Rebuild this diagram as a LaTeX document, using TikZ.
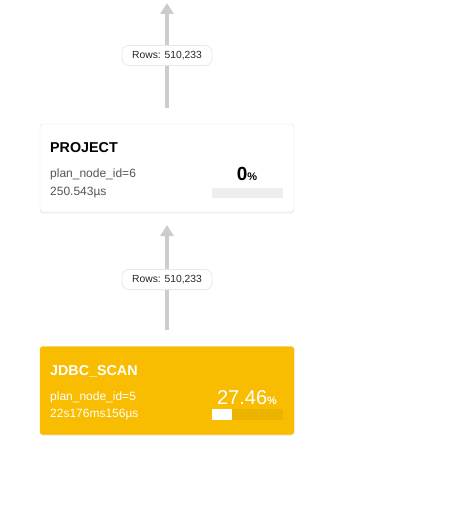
\documentclass[tikz,border=0pt]{standalone}
\usepackage{fontspec}
\setmainfont{Liberation Sans}
\usetikzlibrary{arrows.meta,shadows}
\definecolor{amber}{HTML}{F8BC00}
\definecolor{amberdark}{HTML}{EBB200}
\definecolor{edgegray}{HTML}{CCCCCC}
\definecolor{txtgray}{HTML}{555555}
\definecolor{bargray}{HTML}{EEEEEE}
\tikzset{
  opbox/.style={draw=#1, rounded corners=3pt, minimum width=254pt, minimum height=88pt,
    drop shadow={opacity=0.10, shadow xshift=0pt, shadow yshift=-1.5pt}},
  flow/.style={draw=edgegray, line width=4pt, -{Triangle[width=13pt,length=11pt]}},
  rowlabel/.style={draw=black!9, line width=0.8pt, fill=white, rounded corners=7pt, minimum width=90pt,
    minimum height=20pt, inner sep=0pt, font=\fontsize{10.3}{12}\selectfont, text=black!85},
  title/.style={anchor=base west, font=\bfseries\fontsize{14.3}{16}\selectfont, inner sep=0pt},
  info/.style={anchor=base west, font=\fontsize{12}{14}\selectfont, inner sep=0pt},
  pct/.style={anchor=base, font=\fontsize{20}{22}\selectfont, inner sep=0pt},
}
\begin{document}
\begin{tikzpicture}[x=1pt,y=-1pt]
\useasboundingbox[fill=white] (0,0) rectangle (474,524);
% boxes
\node[opbox=black!12, fill=white] (project) at (167,168) {};
\node[opbox=amber, fill=amber] (scan) at (167,390.5) {};
% connectors
\coordinate (topend) at (167,3);
\coordinate (p1) at (167,108);
\coordinate (p2) at (167,225);
\coordinate (s1) at (167,330);
\draw[flow] (p1) -- node[rowlabel] (r1) {Rows: 510,233} (topend);
\draw[flow] (s1) -- node[rowlabel, pos=0.48] (r2) {Rows: 510,233} (p2);
% project texts
\node[title] (pt) at (50,152) {PROJECT};
\node[info, text=txtgray] (pi) at (50,177) {plan\_node\_id=6};
\node[info, text=txtgray] (pd) at (50,195) {250.543µs};
\node[pct, font=\bfseries\fontsize{19}{22}\selectfont] (pp) at (247,180) {0{\fontsize{11}{12}\selectfont\%}};
\fill[bargray] (212,188) rectangle (283,198);
% scan texts
\node[title, text=white] (st) at (50,375) {JDBC\_SCAN};
\node[info, text=white] (si) at (50,400) {plan\_node\_id=5};
\node[info, text=white] (sd) at (50,417) {22s176ms156µs};
\node[pct, text=white] (sp) at (247,404) {27.46{\bfseries\fontsize{11}{12}\selectfont\%}};
\fill[amberdark] (212,409) rectangle (283,420);
\fill[white] (212,409) rectangle (232,420);
\end{tikzpicture}
\end{document}
